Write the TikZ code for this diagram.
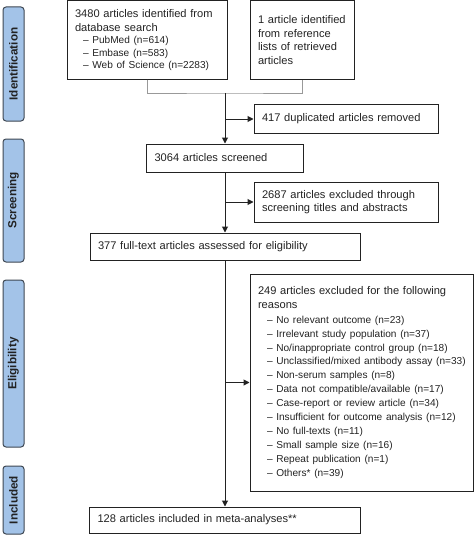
\documentclass[tikz,border=0pt]{standalone}
\usepackage{fontspec}
\setmainfont{Liberation Sans}
\usetikzlibrary{arrows.meta}
\definecolor{sidefill}{HTML}{A3C3E8}
\definecolor{sidebd}{HTML}{3E4752}
\definecolor{ink}{HTML}{222222}
\newcommand{\dd}{\hspace*{8pt}–\ }
\newcommand{\ls}{\leftskip=7pt\relax}
\hyphenpenalty=10000
\exhyphenpenalty=10000
\begin{document}
\begin{tikzpicture}[x=1pt,y=-1pt,
  box/.style={draw=ink, line width=1pt, inner xsep=1pt, inner ysep=0pt, text=ink,
    font=\fontsize{11.1}{13.5}\selectfont, align=left, anchor=center},
  side/.style={draw=sidebd, fill=sidefill, rounded corners=3pt, line width=1pt, rotate=90,
    inner sep=0pt, font=\bfseries\fontsize{11.7}{13}\selectfont, text=ink},
  arr/.style={-{Triangle[length=6pt,width=6pt]}, line width=1pt, draw=ink},
  brk/.style={draw=black!40, line width=1pt}]
\useasboundingbox (0,0) rectangle (474,535);

% side bars
\node[side, minimum width=114, minimum height=21] (sid) at (13.5,64) {Identification};
\node[side, minimum width=123, minimum height=21] (ssc) at (13.5,200.5) {Screening};
\node[side, minimum width=167, minimum height=21] (sel) at (13.5,363.5) {Eligibility};
\node[side, minimum width=68, minimum height=21] (sin) at (13.5,500) {Included};

% boxes
\node[box, minimum width=160, minimum height=78, text width=158] (b1) at (147,40)
  {\ls 3480 articles identified from\\ database search\\[0.5pt]
   {\fontsize{10.1}{12.2}\selectfont\dd PubMed (n=614)\\ \dd Embase (n=583)\\ \dd Web of Science (n=2283)\par}};
\node[box, minimum width=104, minimum height=78, text width=102] (b2) at (302,40)
  {\ls 1 article identified\\ from reference\\ lists of retrieved\\ articles\par};
\node[box, minimum width=184, minimum height=29, text width=182] (b417) at (346,118.5)
  {\ls 417 duplicated articles removed\par};
\node[box, minimum width=157, minimum height=28, text width=155] (b3064) at (225,158)
  {\ls 3064 articles screened\par};
\node[box, minimum width=184, minimum height=40, text width=182] (b2687) at (346,202)
  {\ls 2687 articles excluded through\\ screening titles and abstracts\par};
\node[box, minimum width=270, minimum height=27, text width=268] (b377) at (225,246.5)
  {\ls 377 full-text articles assessed for eligibility\par};
\node[box, minimum width=223, minimum height=217, text width=221] (b249) at (361.5,382.5)
  {\ls 249 articles excluded for the following\\ reasons\\[1pt]
   {\fontsize{10.1}{13.9}\selectfont
   \hspace*{1pt}\dd No relevant outcome (n=23)\\
   \hspace*{1pt}\dd Irrelevant study population (n=37)\\
   \hspace*{1pt}\dd No/inappropriate control group (n=18)\\
   \hspace*{1pt}\dd Unclassified/mixed antibody assay (n=33)\\
   \hspace*{1pt}\dd Non-serum samples (n=8)\\
   \hspace*{1pt}\dd Data not compatible/available (n=17)\\
   \hspace*{1pt}\dd Case-report or review article (n=34)\\
   \hspace*{1pt}\dd Insufficient for outcome analysis (n=12)\\
   \hspace*{1pt}\dd No full-texts (n=11)\\
   \hspace*{1pt}\dd Small sample size (n=16)\\
   \hspace*{1pt}\dd Repeat publication (n=1)\\
   \hspace*{1pt}\dd Others* (n=39)\par}};
\node[box, minimum width=271, minimum height=26, text width=269] (b128) at (225,520)
  {\ls 128 articles included in meta-analyses**\par};

% connectors
\coordinate (m) at (225,93);
\draw[brk] (b1.south) |- (m) -| (b2.south);
\draw[arr] (m) -- (b3064.north);
\coordinate (j1) at (225,119);
\draw[arr] (j1) -- (j1 -| b417.west);
\draw[arr] (b3064.south) -- (b377.north);
\coordinate (j2) at (225,202);
\draw[arr] (j2) -- (j2 -| b2687.west);
\draw[arr] (b377.south) -- (b128.north);
\coordinate (j3) at (225,382.5);
\draw[arr] (j3) -- (j3 -| b249.west);
\end{tikzpicture}
\end{document}
